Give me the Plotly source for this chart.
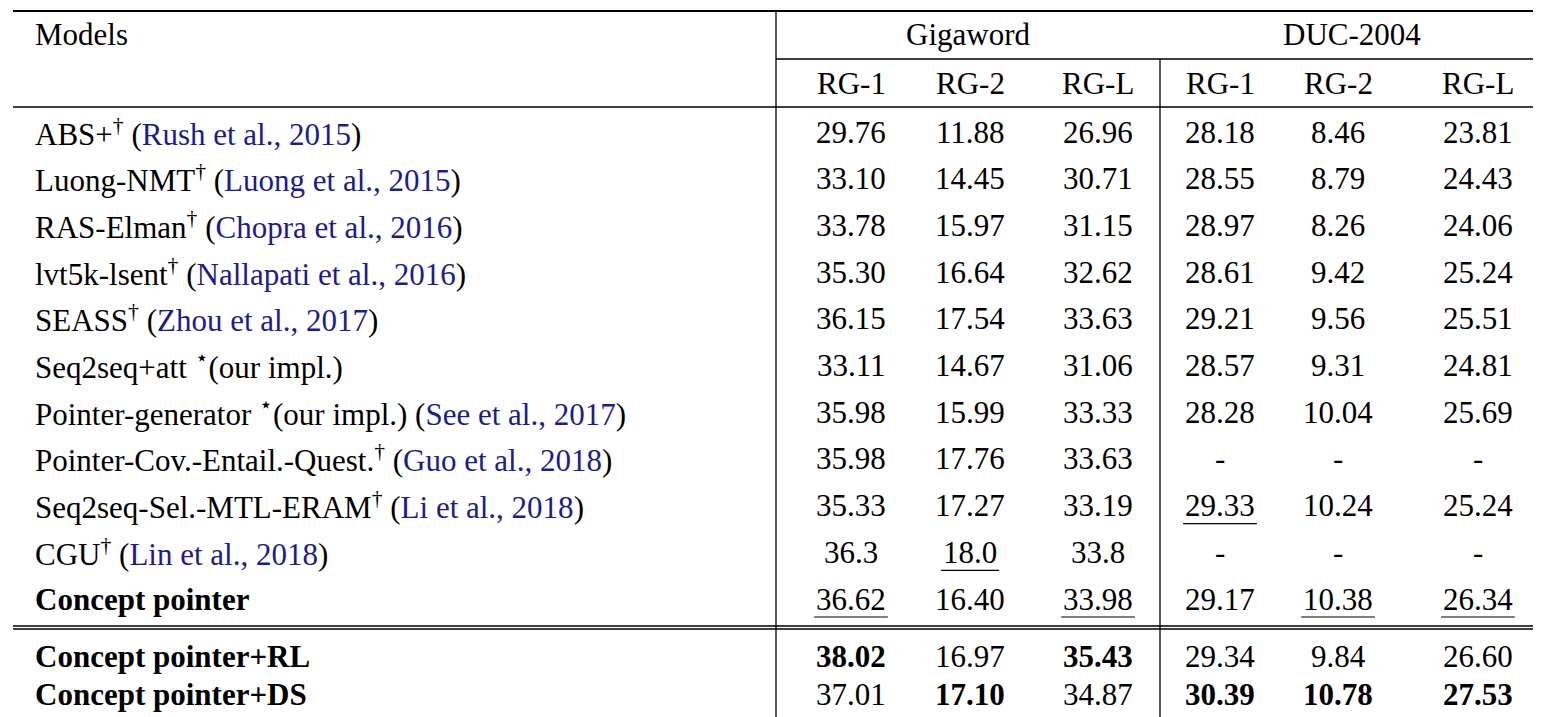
import plotly.graph_objects as go

# --- TABLE DATA
models = ['ABS+<sup>†</sup> ', 'Luong-NMT<sup>†</sup> ', 'RAS-Elman<sup>†</sup> ', 'lvt5k-lsent<sup>†</sup> ',
          'SEASS<sup>†</sup> ', 'Seq2seq+att <sup>⋆</sup>(our impl.)', 'Pointer-generator <sup>⋆</sup>(our impl.) ',
          'Pointer-Cov.-Entail.-Quest.<sup>†</sup> ', 'Seq2seq-Sel.-MTL-ERAM<sup>†</sup> ', 'CGU<sup>†</sup> ',
          '<b>Concept pointer</b>', '<b>Concept pointer+RL</b>', '<b>Concept pointer+DS</b>']
citations = ['Rush et al., 2015', 'Luong et al., 2015', 'Chopra et al., 2016', 'Nallapati et al., 2016',
             'Zhou et al., 2017', '', 'See et al., 2017', 'Guo et al., 2018', 'Li et al., 2018',
             'Lin et al., 2018', '', '', '']
groups = ['Gigaword', 'DUC-2004']
metrics = ['RG-1', 'RG-2', 'RG-L', 'RG-1', 'RG-2', 'RG-L']
scores = [
    ['29.76', '11.88', '26.96', '28.18', '8.46', '23.81'],
    ['33.10', '14.45', '30.71', '28.55', '8.79', '24.43'],
    ['33.78', '15.97', '31.15', '28.97', '8.26', '24.06'],
    ['35.30', '16.64', '32.62', '28.61', '9.42', '25.24'],
    ['36.15', '17.54', '33.63', '29.21', '9.56', '25.51'],
    ['33.11', '14.67', '31.06', '28.57', '9.31', '24.81'],
    ['35.98', '15.99', '33.33', '28.28', '10.04', '25.69'],
    ['35.98', '17.76', '33.63', '-', '-', '-'],
    ['35.33', '17.27', '33.19', '29.33', '10.24', '25.24'],
    ['36.3', '18.0', '33.8', '-', '-', '-'],
    ['36.62', '16.40', '33.98', '29.17', '10.38', '26.34'],
    ['38.02', '16.97', '35.43', '29.34', '9.84', '26.60'],
    ['37.01', '17.10', '34.87', '30.39', '10.78', '27.53'],
]
# (row, col) of underlined / bold cells
underlined = [(8, 3), (9, 1), (10, 0), (10, 2), (10, 4), (10, 5)]
bold = [(11, 0), (11, 2), (12, 1), (12, 3), (12, 4), (12, 5)]

# --- LAYOUT
FONT = 'Liberation Serif'
SIZE = 31
NAVY = '#1c1c8a'
col_x = [843, 962, 1090, 1212, 1330, 1470]
group_x = [960, 1344]
row_y = [124 + i * 46.7 for i in range(11)] + [648, 686]

fig = go.Figure()
ann = []
shapes = []

def hline(y, x0=5, x1=1536, w=1.3):
    shapes.append(dict(type='line', x0=x0, x1=x1, y0=y, y1=y, line=dict(color='black', width=w)))

def vline(x, y0, y1):
    shapes.append(dict(type='line', x0=x, x1=x, y0=y0, y1=y1, line=dict(color='black', width=1.3)))

ann.append(dict(x=25, y=26, text='Models', xanchor='left'))
for g, gx in zip(groups, group_x):
    ann.append(dict(x=gx, y=26, text=g))
for m, cx in zip(metrics, col_x):
    ann.append(dict(x=cx, y=75, text=m))

for i, (m, c) in enumerate(zip(models, citations)):
    t = m
    if c:
        t += '(<span style="color:%s">%s</span>)' % (NAVY, c)
    ann.append(dict(x=25, y=row_y[i], text=t, xanchor='left'))
    for j, v in enumerate(scores[i]):
        txt = '<b>%s</b>' % v if (i, j) in bold else v
        ann.append(dict(x=col_x[j], y=row_y[i], text=txt))
        if (i, j) in underlined:
            half = SIZE * (0.5 * (len(v) - 1) + 0.25) / 2 + 2
            hline(row_y[i] + 18, col_x[j] - half, col_x[j] + half, 1.2)

for a in ann:
    a.update(xref='x', yref='y', showarrow=False, font=dict(family=FONT, size=SIZE, color='black'))
    a.setdefault('xanchor', 'center')
    a['yanchor'] = 'middle'

hline(3, w=2.2)
hline(51, 768, 1536)
hline(99)
hline(618)
hline(621)
hline(711)
hline(714)
vline(768, 3, 714)
vline(1152, 51, 714)

fig.update_layout(
    width=1541, height=717, margin=dict(l=0, r=0, t=0, b=0),
    plot_bgcolor='white', paper_bgcolor='white',
    annotations=ann, shapes=shapes,
    xaxis=dict(range=[0, 1541], visible=False),
    yaxis=dict(range=[717, 0], visible=False),
)
fig.write_html("out.html")
